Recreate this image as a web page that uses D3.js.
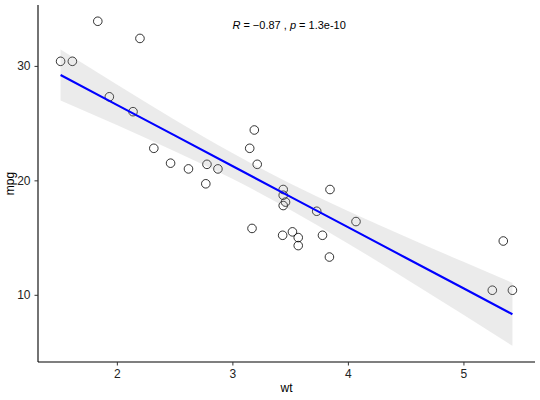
<html>
<head>
    <script src="https://d3js.org/d3.v7.min.js"></script>
</head>
<style>
body { margin: 0; background: #fff; }
text { font-family: "Liberation Sans", Arial, sans-serif; }
</style>
<body>
<script>
// mtcars: weight and miles per gallon
var wt  = [2.620, 2.875, 2.320, 3.215, 3.440, 3.460, 3.570, 3.190, 3.150, 3.440, 3.440,
           4.070, 3.730, 3.780, 5.250, 5.424, 5.345, 2.200, 1.615, 1.835, 2.465, 3.520,
           3.435, 3.840, 3.845, 1.935, 2.140, 1.513, 3.170, 2.770, 3.570, 2.780];
var mpg = [21.0, 21.0, 22.8, 21.4, 18.7, 18.1, 14.3, 24.4, 22.8, 19.2, 17.8,
           16.4, 17.3, 15.2, 10.4, 10.4, 14.7, 32.4, 30.4, 33.9, 21.5, 15.5,
           15.2, 13.3, 19.2, 27.3, 26.0, 30.4, 15.8, 19.7, 15.0, 21.4];

// fitted line and confidence band
var bandX   = [1.513, 2.0, 2.5, 3.0, 3.5, 4.0, 4.5, 5.0, 5.424];
var fitY    = [29.20, 26.60, 23.93, 21.25, 18.58, 15.91, 13.24, 10.57, 8.30];
var bandLow = [26.97, 24.83, 22.55, 20.13, 17.44, 14.49, 11.41, 8.25, 5.55];
var bandHigh= [31.43, 28.37, 25.30, 22.38, 19.73, 17.33, 15.07, 12.88, 11.05];

var xTicks = [2, 3, 4, 5];
var yTicks = [10, 20, 30];

var w = 540, h = 400;
var margin = { top: 5, right: 5, bottom: 38, left: 38 };

var svg = d3.select("body").append("svg").attr("width", w).attr("height", h);

var x = d3.scaleLinear().domain([1.3175, 5.6195]).range([margin.left, w - margin.right]);
var y = d3.scaleLinear().domain([4.13, 35.32]).range([h - margin.bottom, margin.top]);

var band = bandX.map(function(d, i){ return { x: d, lo: bandLow[i], hi: bandHigh[i], fit: fitY[i] }; });

// points
svg.append("g").selectAll("circle").data(wt).enter().append("circle")
    .attr("cx", function(d){ return x(d); })
    .attr("cy", function(d, i){ return y(mpg[i]); })
    .attr("r", 4.3)
    .attr("fill", "none")
    .attr("stroke", "#000")
    .attr("stroke-width", 0.8);

// confidence band
var area = d3.area().x(function(d){ return x(d.x); })
    .y0(function(d){ return y(d.lo); })
    .y1(function(d){ return y(d.hi); })
    .curve(d3.curveMonotoneX);
svg.append("path").datum(band).attr("d", area)
    .attr("fill", "#999").attr("fill-opacity", 0.2);

// fit line
var line = d3.line().x(function(d){ return x(d.x); }).y(function(d){ return y(d.fit); });
svg.append("path").datum(band).attr("d", line)
    .attr("fill", "none").attr("stroke", "#0000ff").attr("stroke-width", 2.1);

// axes
var xAxis = d3.axisBottom(x).tickValues(xTicks).tickSize(3.5).tickPadding(4).tickFormat(d3.format("d"));
var yAxis = d3.axisLeft(y).tickValues(yTicks).tickSize(3.5).tickPadding(4).tickFormat(d3.format("d"));

var gx = svg.append("g").attr("transform", "translate(0," + (h - margin.bottom) + ")").call(xAxis);
var gy = svg.append("g").attr("transform", "translate(" + margin.left + ",0)").call(yAxis);
gx.select(".domain").attr("d", "M" + margin.left + ",0H" + (w - margin.right)).attr("stroke", "#000").attr("stroke-width", 1.1);
gy.select(".domain").attr("d", "M0," + margin.top + "V" + (h - margin.bottom)).attr("stroke", "#000").attr("stroke-width", 1.1);
[gx, gy].forEach(function(g){
    g.selectAll("text").attr("font-size", 12).attr("fill", "#222")
        .style("font-family", "'Liberation Sans', Arial, sans-serif");
    g.selectAll(".tick line").attr("stroke", "#333");
});

// axis titles
svg.append("text").attr("x", (margin.left + w - margin.right) / 2).attr("y", h - 8)
    .attr("text-anchor", "middle").attr("font-size", 12).text("wt");
svg.append("text").attr("transform", "translate(14," + ((margin.top + h - margin.bottom) / 2) + ") rotate(-90)")
    .attr("text-anchor", "middle").attr("font-size", 12).text("mpg");

// correlation label
var lab = svg.append("text").attr("x", x(3)).attr("y", y(33.2)).attr("font-size", 11).attr("fill", "#000");
lab.append("tspan").attr("font-style", "italic").text("R");
lab.append("tspan").text(" = \u22120.87 , ");
lab.append("tspan").attr("font-style", "italic").text("p");
lab.append("tspan").text(" = 1.3e-10");
</script>
</body>
</html>
